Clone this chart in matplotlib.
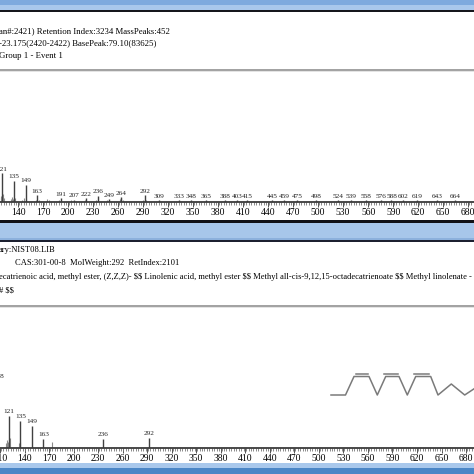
import matplotlib
matplotlib.use("Agg")
import matplotlib.pyplot as plt
from matplotlib.ticker import MultipleLocator

plt.rcParams["text.parse_math"] = False

# Header texts (cut off at the left edge in the screenshot)
top_header = ["an#:2421) Retention Index:3234 MassPeaks:452",
              "-23.175(2420-2422) BasePeak:79.10(83625)",
              "Group 1 - Event 1"]
bottom_header = ["ary:NIST08.LIB",
                 "CAS:301-00-8  MolWeight:292  RetIndex:2101",
                 "ecatrienoic acid, methyl ester, (Z,Z,Z)- $$ Linolenic acid, methyl ester $$ "
                 "Methyl all-cis-9,12,15-octadecatrienoate $$ Methyl linolenate -",
                 "# $$"]
bottom_header_x = [-1, 15, -1, -1]

# Measured spectrum (relative intensity, %)
top_mz = [121, 135, 149, 163, 191, 207, 222, 236, 249, 264, 292, 309, 333, 348,
          365, 388, 403, 415, 445, 459, 475, 498, 524, 539, 558, 576, 588, 602,
          619, 643, 664]
top_int = [21.5, 15.5, 12.5, 4.6, 2.3, 1.4, 2.3, 4.4, 1.6, 3.2, 4.6, 0.9, 0.9, 0.9,
           0.9, 0.9, 0.9, 0.9, 0.9, 0.9, 0.9, 0.8, 0.8, 0.8, 0.8, 0.8, 0.8, 0.8,
           0.8, 0.8, 0.8]
top_minor_mz = [119, 120, 122, 123, 131, 133, 134, 136, 145, 147, 150, 161, 165,
                175, 177, 189, 203, 220, 234, 247, 262, 263, 266, 290, 293]
top_minor_int = [3.0, 4.5, 6.0, 2.5, 2.0, 3.5, 2.0, 3.0, 1.5, 2.5, 2.0, 1.5, 1.2,
                 2.0, 1.5, 1.2, 1.0, 1.5, 1.5, 1.0, 1.8, 2.4, 1.2, 1.0, 1.2]
top_ticks = list(range(140, 700, 30))

# Library spectrum (relative intensity, %)
lib_mz = [108, 121, 135, 149, 163, 236, 292]
lib_int = [47.0, 22.5, 19.0, 15.5, 6.3, 6.3, 7.0]
lib_minor_mz = [117, 119, 120, 122, 133, 134, 173]
lib_minor_int = [3.5, 5.6, 4.0, 7.0, 3.5, 4.0, 4.2]
lib_ticks = list(range(110, 700, 30))

# Structure sketch (screen pixels)
struct_x = [331, 345.5, 354, 369, 377.3, 385.7, 399, 407.3, 415.7, 430.7, 438, 451.3, 464.7, 476]
struct_y = [395, 395, 376.5, 376.5, 395, 376.5, 376.5, 395, 376.5, 376.5, 395, 384, 395, 387.5]
dbl_x = [(356, 368), (384, 398), (414, 429)]
dbl_y = 373.6

W = H = 474
serif = "Liberation Serif"

fig = plt.figure(figsize=(W / 100, H / 100), dpi=100)
bg = fig.add_axes([0, 0, 1, 1])
bg.set_xlim(0, W)
bg.set_ylim(H, 0)
bg.axis("off")


def band(y0, y1, color):
    bg.fill_between([0, W], y0, y1, color=color, lw=0)


def px_axes(x0, y0, x1, y1):
    return fig.add_axes([x0 / W, 1 - y1 / H, (x1 - x0) / W, (y1 - y0) / H])


# window chrome
band(0, 5, "#7eaade")
band(5, 9.5, "#a9c8ec")
band(9.5, 12, "#15161c")
band(68.5, 70.5, "#a3a3a3")
band(70.5, 72, "#e4e4e4")
band(219.5, 222.5, "#111116")
band(222.5, 238, "#a7c6ea")
band(238, 239.5, "#8cb0dc")
band(239.5, 242, "#1c2030")
band(304.5, 306.5, "#a3a3a3")
band(306.5, 308, "#e4e4e4")
band(462.5, 467.5, "#a9c8ec")
band(467.5, 474, "#4b86c6")

for i, s in enumerate(top_header):
    bg.text(-1, 31 + 12.6 * i, s, va="center", ha="left", fontsize=6.3, family=serif)
for i, s in enumerate(bottom_header):
    bg.text(bottom_header_x[i], 250 + 13.4 * i, s, va="center", ha="left",
            fontsize=6.1, family=serif)

bg.plot(struct_x, struct_y, color="#7a7a7a", lw=1.1)
for xs in dbl_x:
    bg.plot(xs, [dbl_y, dbl_y], color="#7a7a7a", lw=1.1)


def spectrum(ax, xlim, ticks, mz, inten, mz_minor, int_minor):
    ax.set_xlim(*xlim)
    ax.set_ylim(0, 100)
    ax.patch.set_alpha(0)
    for s in ["top", "left", "right"]:
        ax.spines[s].set_visible(False)
    ax.spines["bottom"].set_color("#3a3a3a")
    ax.spines["bottom"].set_linewidth(1.3)
    ax.set_yticks([])
    ax.set_xticks(ticks)
    ax.xaxis.set_minor_locator(MultipleLocator(3))
    ax.tick_params(axis="x", which="major", length=3.5, width=0.7, color="#555555",
                   pad=1.5, labelsize=6.9)
    ax.tick_params(axis="x", which="minor", length=1.8, width=0.6, color="#777777")
    for lab in ax.get_xticklabels():
        lab.set_family(serif)
    ax.vlines(mz_minor, 0, int_minor, color="#8a8a8a", lw=0.8)
    ax.vlines(mz, 0, inten, color="#404040", lw=1.0)
    for m, v in zip(mz, inten):
        ax.annotate(str(m), (m, v), xytext=(0, 1.2), textcoords="offset points",
                    ha="center", va="bottom", fontsize=5.2, family=serif,
                    color="#222222", annotation_clip=False)


ax_top = px_axes(0, 70, W, 201.5)
spectrum(ax_top, (118.4, 687), top_ticks, top_mz, top_int, top_minor_mz, top_minor_int)

ax_bot = px_axes(0, 306, W, 447.5)
spectrum(ax_bot, (112.4, 689.7), lib_ticks, lib_mz, lib_int, lib_minor_mz, lib_minor_int)

fig.savefig("out.png", dpi=100)
